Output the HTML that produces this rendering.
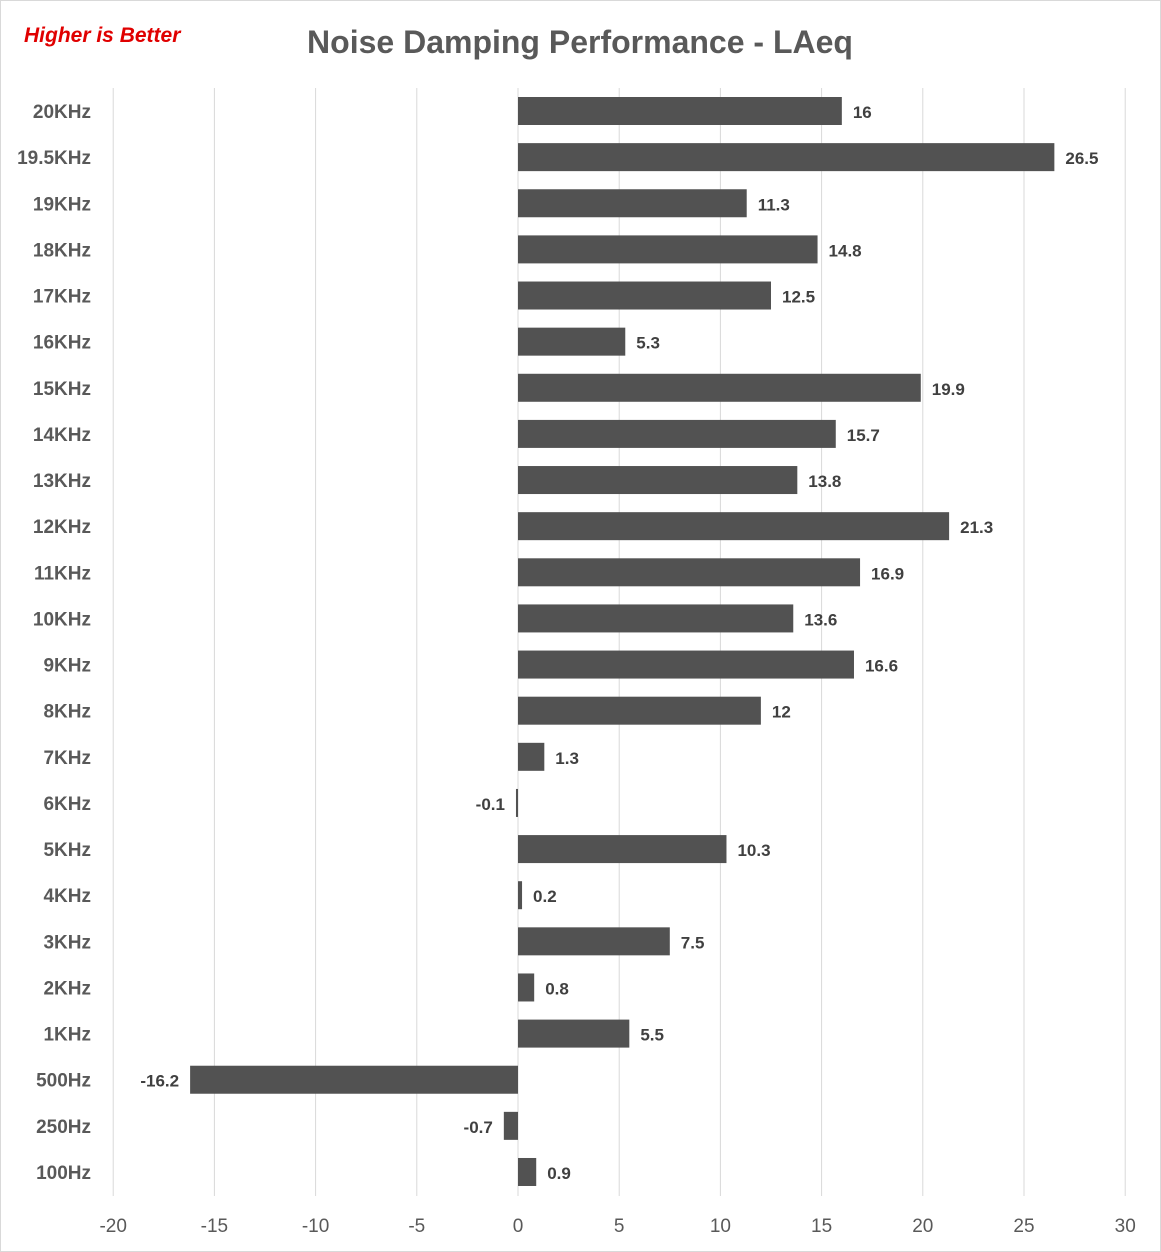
<!DOCTYPE html>
<html><head><meta charset="utf-8"><style>
html,body{margin:0;padding:0;background:#fff}
svg{display:block}
</style></head><body>
<svg id="chart" width="1161" height="1252" xmlns="http://www.w3.org/2000/svg" font-family="'Liberation Sans', sans-serif">
<rect x="0.5" y="0.5" width="1160" height="1251" fill="#fff" stroke="#d9d9d9"/>
<text x="24" y="42" fill="#e00000" font-size="21" font-weight="bold" font-style="italic">Higher is Better</text>
<text x="580" y="53" fill="#595959" font-size="32" font-weight="bold" text-anchor="middle">Noise Damping Performance - LAeq</text>
<g id="grid"></g><g id="bars"></g><g id="labels"></g>
</svg>
<script>
const categories=["20KHz","19.5KHz","19KHz","18KHz","17KHz","16KHz","15KHz","14KHz","13KHz","12KHz","11KHz","10KHz","9KHz","8KHz","7KHz","6KHz","5KHz","4KHz","3KHz","2KHz","1KHz","500Hz","250Hz","100Hz"];
const values=[16,26.5,11.3,14.8,12.5,5.3,19.9,15.7,13.8,21.3,16.9,13.6,16.6,12,1.3,-0.1,10.3,0.2,7.5,0.8,5.5,-16.2,-0.7,0.9];
const ticks=[-20,-15,-10,-5,0,5,10,15,20,25,30];
const NS="http://www.w3.org/2000/svg";
const xs=v=>518+(v)*20.24;
const yc=i=>111+i*46.13;
const plotTop=88,plotBottom=1196;
function mk(tag,attrs,parent,txt){const e=document.createElementNS(NS,tag);for(const k in attrs)e.setAttribute(k,attrs[k]);if(txt!==undefined)e.textContent=txt;document.getElementById(parent).appendChild(e);return e;}
ticks.forEach(t=>{
 const g=mk('line',{x1:xs(t),x2:xs(t),y1:plotTop,y2:plotBottom,stroke:'#d9d9d9','stroke-width':1},'grid');
 
 
 const l=mk('text',{x:xs(t),y:1232,'text-anchor':'middle','font-size':19,fill:'#595959'},'labels',String(t));
 
 
});
categories.forEach((c,i)=>{
 const v=values[i],y=yc(i);
 const x0=Math.min(xs(0),xs(v)),w=Math.max(Math.abs(xs(v)-xs(0)),1.2);
 const b=mk('rect',{x:x0,y:y-14,width:w,height:28,fill:'#525252'},'bars');
 
 
 const cl=mk('text',{x:91,y:y+7,'text-anchor':'end','font-size':19,'font-weight':'bold',fill:'#595959'},'labels',c);
 
 
 const vx=v>=0?xs(v)+11:xs(v)-11;
 const vl=mk('text',{x:vx,y:y+7,'text-anchor':v>=0?'start':'end','font-size':17,'font-weight':'bold',fill:'#404040'},'labels',String(v));
 
 
});
</script>
</body></html>
